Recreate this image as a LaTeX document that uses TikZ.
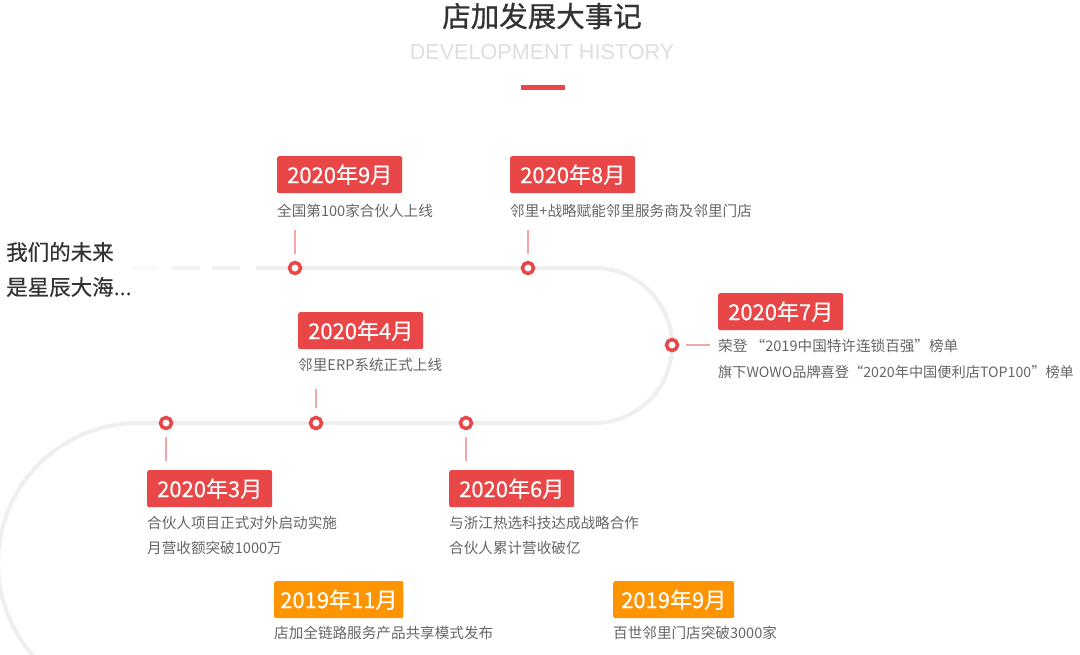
\documentclass[tikz,border=0pt]{standalone}
\usepackage{fontspec}
\setmainfont{Noto Sans CJK SC}
\newfontfamily\latinthin{Liberation Sans}
\newfontfamily\heavyfont[FakeBold=0.8]{Noto Sans CJK SC}
\newfontfamily\midfont[FakeBold=0.4]{Noto Sans CJK SC}
\definecolor{mred}{HTML}{E94648}
\definecolor{morange}{HTML}{FE9500}
\definecolor{mtick}{HTML}{F4A5A5}
\definecolor{mtrack}{HTML}{EFEFEF}
\definecolor{mtext}{HTML}{666666}
\definecolor{mdark}{HTML}{333333}
\begin{document}
\begin{tikzpicture}[x=1pt,y=-1pt,
  datebox/.style={fill=mred, text=white, rounded corners=2pt, anchor=north west,
    minimum height=37pt, minimum width=125pt, inner xsep=6pt, inner ysep=0pt, font=\midfont\fontsize{22}{22}\selectfont},
  oldbox/.style={datebox, fill=morange},
  desc/.style={anchor=west, inner sep=0pt, text=mtext, font=\fontsize{14.6}{14.6}\selectfont},
  dot/.style={circle, draw=mred, line width=3.5pt, fill=white, minimum size=11pt, inner sep=0pt},
  tick/.style={draw=mtick, line width=1.2pt},
  track/.style={draw=mtrack, line width=4pt},
  dashseg/.style={line width=4pt, line cap=round}]
\useasboundingbox (0,0) rectangle (1080,654);
\fill[white] (0,0) rectangle (1080,654);
\begin{scope}
\clip (0,0) rectangle (1080,654);
% title
\node[text=mdark, font=\heavyfont\fontsize{28.5}{28.5}\selectfont] (title) at (542,16) {店加发展大事记};
\node[text=black!13, font=\latinthin\fontsize{21.6}{21.6}\selectfont] (sub) at (542,52) {DEVELOPMENT HISTORY};
\fill[mred] (521,85) rectangle (565,90);
% left text
\node[anchor=west, inner sep=0pt, text=mdark, font=\midfont\fontsize{21.5}{21.5}\selectfont] (f1) at (6,252) {我们的未来};
\node[anchor=west, inner sep=0pt, text=mdark, font=\midfont\fontsize{21.5}{21.5}\selectfont] (f2) at (6,287) {是星辰大海...};
% dashes
\draw[dashseg, draw=black!2.5] (134,268) -- (157,268);
\draw[dashseg, draw=black!5] (174,268) -- (198,268);
\draw[dashseg, draw=black!6] (214,268) -- (238,268);
% track
\draw[track] (256,268) -- (594.5,268) arc[start angle=-90, end angle=90, radius=77.5]
  -- (138,423) arc[start angle=-90, end angle=-230, radius=140];
% dots
\node[dot] (d9) at (295,268) {};
\node[dot] (d8) at (528,268) {};
\node[dot] (d7) at (672,345) {};
\node[dot] (d3) at (166,423) {};
\node[dot] (d4) at (316,423) {};
\node[dot] (d6) at (466,423) {};
% ticks
\draw[tick] (d9) ++(0,-14) -- ++(0,-24);
\draw[tick] (d8) ++(0,-14) -- ++(0,-24);
\draw[tick] (d7) ++(14,0) -- ++(24,0);
\draw[tick] (d4) ++(0,-15) -- ++(0,-19);
\draw[tick] (d3) ++(0,14) -- ++(0,24);
\draw[tick] (d6) ++(0,14) -- ++(0,24);
% boxes
\node[datebox] (b9) at (277,156) {2020年9月};
\node[datebox] (b8) at (510,156) {2020年8月};
\node[datebox] (b7) at (718,293) {2020年7月};
\node[datebox] (b4) at (298,312) {2020年4月};
\node[datebox] (b3) at (147,470) {2020年3月};
\node[datebox] (b6) at (449,470) {2020年6月};
\node[oldbox] (b11) at (274,581) {2019年11月};
\node[oldbox, minimum width=121pt] (b19) at (613,581) {2019年9月};
% descriptions
\node[desc] (t9) at (277,211) {全国第100家合伙人上线};
\node[desc] (t8) at (510,211) {邻里+战略赋能邻里服务商及邻里门店};
\node[desc] (t7a) at (718,346) {荣登 “2019中国特许连锁百强”榜单};
\node[desc, font=\fontsize{14.2}{14.2}\selectfont] (t7b) at (718,372) {旗下WOWO品牌喜登“2020年中国便利店TOP100”榜单};
\node[desc] (t4) at (298,365) {邻里ERP系统正式上线};
\node[desc] (t3a) at (147,523) {合伙人项目正式对外启动实施};
\node[desc] (t3b) at (147,548) {月营收额突破1000万};
\node[desc] (t6a) at (449,523) {与浙江热选科技达成战略合作};
\node[desc] (t6b) at (449,548) {合伙人累计营收破亿};
\node[desc] (t11) at (274,633) {店加全链路服务产品共享模式发布};
\node[desc] (t19) at (613,633) {百世邻里门店突破3000家};
\end{scope}
\end{tikzpicture}
\end{document}
